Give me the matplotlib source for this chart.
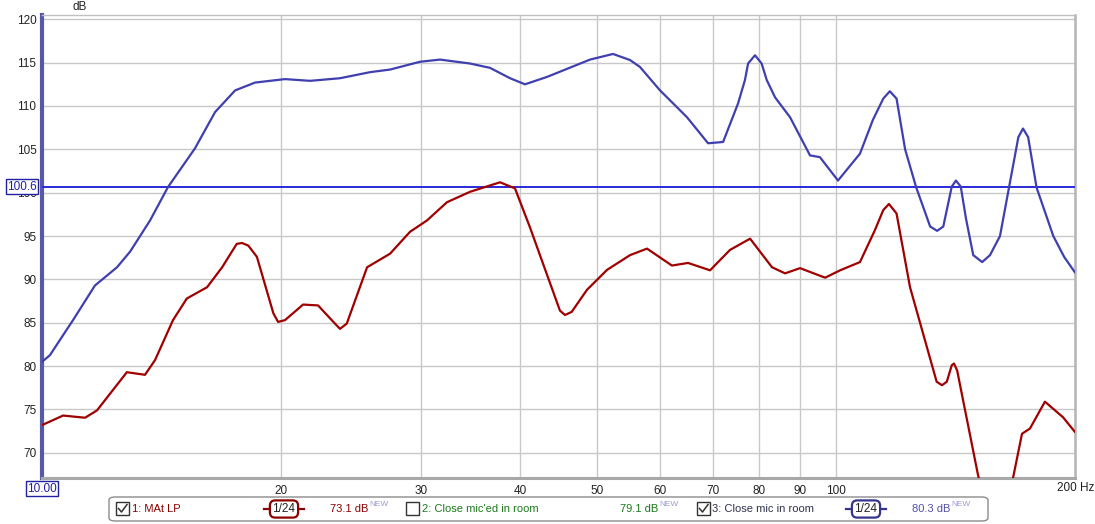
import numpy as np
import matplotlib
matplotlib.use("Agg")
import matplotlib.pyplot as plt
from matplotlib.patches import FancyBboxPatch, Rectangle
from matplotlib.lines import Line2D

plt.rcParams['font.family'] = ['Liberation Sans', 'DejaVu Sans']

# ---- data ----
blue_freq = [10.0, 10.23, 10.94, 11.66, 12.43, 12.91, 13.68, 14.41, 15.58, 16.52,
             17.51, 18.55, 20.23, 21.76, 23.73, 25.89, 27.44, 29.93, 31.72, 34.59,
             36.66, 38.86, 40.58, 43.25, 49.0, 52.38, 55.03, 56.64, 60.03, 64.92,
             69.01, 72.08, 75.28, 76.8, 77.5, 79.07, 80.6, 81.8, 83.8, 87.53,
             92.75, 95.45, 100.58, 107.2, 111.3, 114.7, 116.9, 119.2, 122.2, 126.2,
             131.4, 134.1, 136.5, 139.9, 141.6, 143.6, 145.8, 148.9, 152.8, 156.3,
             160.9, 169.7, 172.0, 174.6, 178.9, 187.8, 193.8, 200.0]
blue_db = [80.5, 81.25, 85.3, 89.3, 91.4, 93.2, 96.8, 100.65, 105.1, 109.3,
           111.8, 112.7, 113.1, 112.9, 113.2, 113.9, 114.2, 115.1, 115.35, 114.9,
           114.4, 113.2, 112.5, 113.35, 115.35, 116.0, 115.3, 114.5, 111.8, 108.7,
           105.7, 105.85, 110.3, 113.0, 114.9, 115.85, 114.9, 113.0, 111.0, 108.7,
           104.3, 104.1, 101.4, 104.5, 108.4, 110.85, 111.7, 110.85, 105.0, 100.6,
           96.1, 95.6, 96.1, 100.7, 101.4, 100.7, 97.0, 92.8, 92.0, 92.8,
           95.0, 106.4, 107.4, 106.4, 100.6, 95.0, 92.6, 90.8]

red_freq = [10.0, 10.63, 11.33, 11.73, 12.79, 13.48, 13.88, 14.62, 15.22, 16.14,
            16.86, 17.59, 17.86, 18.19, 18.65, 19.56, 19.83, 20.23, 21.32, 22.27,
            23.39, 23.73, 24.20, 25.67, 27.44, 29.08, 30.54, 32.36, 34.59, 37.74,
            39.42, 41.17, 44.91, 45.57, 46.46, 48.57, 51.48, 55.03, 57.81, 62.14,
            65.11, 69.41, 73.53, 77.95, 83.07, 86.28, 90.1, 96.9, 101.2, 107.2,
            111.97, 114.7, 116.6, 119.2, 123.95, 133.9, 136.0, 137.9, 139.9, 140.8,
            142.1, 151.0, 156.3, 160.9, 164.6, 167.1, 171.5, 175.5, 183.3, 193.2,
            200.0]
red_db = [73.2, 74.3, 74.05, 74.9, 79.3, 79.0, 80.7, 85.3, 87.8, 89.1,
          91.4, 94.1, 94.2, 93.9, 92.6, 86.1, 85.1, 85.3, 87.1, 87.0,
          84.9, 84.3, 84.9, 91.4, 92.97, 95.5, 96.8, 98.9, 100.1, 101.2,
          100.5, 96.0, 86.4, 85.9, 86.25, 88.8, 91.1, 92.8, 93.55, 91.6,
          91.9, 91.05, 93.4, 94.7, 91.4, 90.7, 91.3, 90.2, 91.05, 92.0,
          95.7, 98.0, 98.7, 97.6, 89.1, 78.2, 77.8, 78.2, 80.1, 80.3,
          79.5, 67.4, 62.0, 60.5, 63.0, 67.1, 72.2, 72.8, 75.9, 74.1,
          72.4]

ref_level = 100.6
x_ticks = [20, 30, 40, 50, 60, 70, 80, 90, 100]
y_ticks = [70, 75, 80, 85, 90, 95, 100, 105, 110, 115, 120]

legend_names = ["1: MAt LP", "2: Close mic'ed in room", "3: Close mic in room"]
legend_values = ["73.1 dB", "79.1 dB", "80.3 dB"]
legend_checked = [True, False, True]
legend_name_colors = ["#8b0000", "#1a7a1a", "#303050"]
legend_value_colors = ["#8b0000", "#1a7a1a", "#5050a8"]
legend_icon = [True, False, True]

W, H = 1095, 524
fig = plt.figure(figsize=(W / 100, H / 100), dpi=100)
fig.patch.set_facecolor("white")

def fx(px):
    return px / W

def fy(py):
    return 1 - py / H

ax = fig.add_axes([fx(42), fy(478), fx(1075) - fx(42), fy(14.5) - fy(478)])
ax.set_xscale("log")
ax.set_xlim(10, 200)
ax.set_ylim(67.1, 120.55)

ax.set_xticks(x_ticks)
ax.set_xticklabels([str(t) for t in x_ticks])
ax.xaxis.set_minor_locator(matplotlib.ticker.NullLocator())
ax.set_yticks(y_ticks)
ax.set_yticklabels([str(t) for t in y_ticks])
ax.tick_params(axis="both", length=0, labelsize=8.5, colors="#222222")
ax.tick_params(axis="x", pad=5)
ax.tick_params(axis="y", pad=4)
ax.grid(True, which="major", color="#c8c8c8", lw=1)
ax.set_axisbelow(True)

ax.spines["top"].set_color("#c0c0c0")
ax.spines["top"].set_linewidth(1)
ax.spines["right"].set_color("#b4b4b4")
ax.spines["right"].set_linewidth(1.8)
ax.spines["bottom"].set_color("#a8a8a8")
ax.spines["bottom"].set_linewidth(2.2)
ax.spines["left"].set_color("#5858a8")
ax.spines["left"].set_linewidth(3)

ax.axhline(ref_level, color="#2a2ad8", lw=1.4, zorder=3)
ax.plot(blue_freq, blue_db, color="#3f3fb0", lw=1.6, zorder=4,
        solid_joinstyle="round", solid_capstyle="round")
ax.plot(red_freq, red_db, color="#a00000", lw=1.6, zorder=4,
        solid_joinstyle="round", solid_capstyle="round")

# axis annotations
fig.text(fx(80), fy(7), "dB", ha="center", va="center", fontsize=8.5, color="#222222")
fig.text(fx(1076), fy(488), "200 Hz", ha="center", va="center", fontsize=8.5, color="#222222")
fig.text(fx(42), fy(488.5), "10.00", ha="center", va="center", fontsize=8.5, color="#2020a0",
         bbox=dict(boxstyle="square,pad=0.12", fc="white", ec="#2020a0", lw=1), zorder=10)
fig.text(fx(22), fy(186.5), "100.6", ha="center", va="center", fontsize=8.5, color="#2020a0",
         bbox=dict(boxstyle="square,pad=0.12", fc="white", ec="#2020a0", lw=1), zorder=10)

# legend strip
box = FancyBboxPatch((fx(109), fy(521)), fx(988) - fx(109), fy(497) - fy(521),
                     boxstyle="round,pad=0,rounding_size=0.006", transform=fig.transFigure,
                     fc="white", ec="#8c8c8c", lw=1)
fig.add_artist(box)

def checkbox(px, checked):
    size = 13
    r = Rectangle((fx(px), fy(502 + size)), fx(size), fy(502) - fy(502 + size),
                  transform=fig.transFigure, fc="white", ec="#333333", lw=1)
    fig.add_artist(r)
    if checked:
        xs = [px + 2.5, px + 5.5, px + 11]
        ys = [508.5, 512, 504.5]
        fig.add_artist(Line2D([fx(v) for v in xs], [fy(v) for v in ys],
                              transform=fig.transFigure, color="#333333", lw=1.1))

def smooth_icon(pcx, col):
    fig.add_artist(Line2D([fx(pcx - 20), fx(pcx + 20)], [fy(509), fy(509)],
                          transform=fig.transFigure, color=col, lw=1.6))
    fig.text(fx(pcx), fy(509), "1/24", ha="center", va="center", fontsize=8.5, color="#222222",
             bbox=dict(boxstyle="round,pad=0.22,rounding_size=0.45", fc="white", ec=col, lw=1.6))

cb_x = [116, 406, 697]
name_x = [132, 422, 712]
icon_x = [284, None, 866]
val_x = [330, 620, 912]
fig.canvas.draw()
renderer = fig.canvas.get_renderer()
for i in range(3):
    checkbox(cb_x[i], legend_checked[i])
    fig.text(fx(name_x[i]), fy(509), legend_names[i], ha="left", va="center",
             fontsize=8, color=legend_name_colors[i])
    if legend_icon[i]:
        smooth_icon(icon_x[i], "#8b0000" if i == 0 else "#35358f")
    t = fig.text(fx(val_x[i]), fy(509), legend_values[i], ha="left", va="center",
                 fontsize=8, color=legend_value_colors[i])
    bb = t.get_window_extent(renderer=renderer)
    fig.text(bb.x1 / W + fx(1), fy(504), "NEW", ha="left", va="center",
             fontsize=6, color="#9a9ad8")

fig.savefig("out.png", dpi=100, facecolor="white")
